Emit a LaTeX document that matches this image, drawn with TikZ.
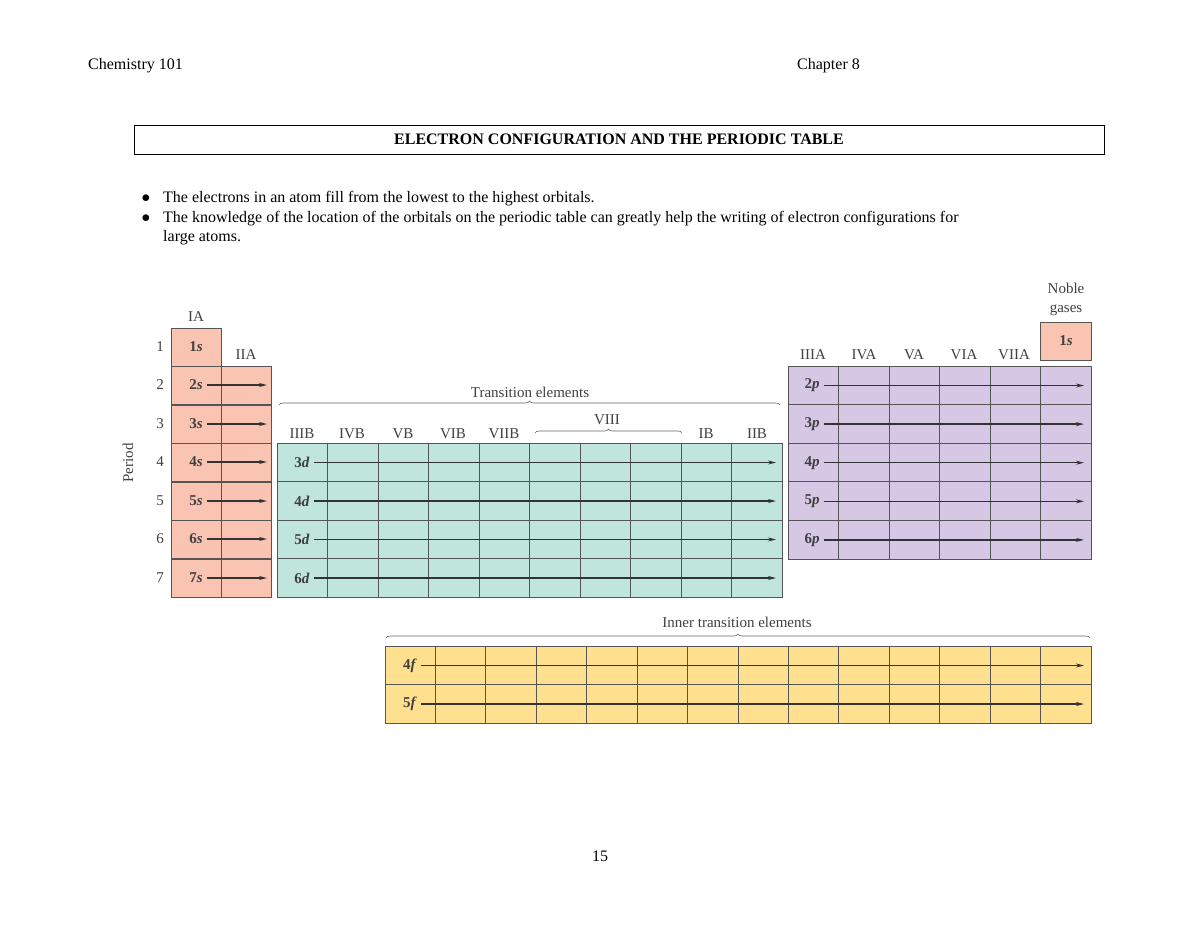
\documentclass[tikz,border=0pt]{standalone}
\usepackage{fontspec}
\setmainfont{Liberation Serif}
\usetikzlibrary{arrows.meta,decorations.pathreplacing}
\definecolor{sblk}{RGB}{249,196,178}
\definecolor{dblk}{RGB}{191,229,220}
\definecolor{pblk}{RGB}{214,200,228}
\definecolor{fblk}{RGB}{255,224,143}
\definecolor{gridc}{RGB}{85,85,85}
\begin{document}
\begin{tikzpicture}[x=1pt,y=-1pt,
  txt/.style={inner sep=0pt,font=\fontsize{16}{19}\selectfont},
  lab/.style={inner sep=0pt,font=\fontsize{15}{17}\selectfont,text=black!75},
  orb/.style={inner sep=0pt,font=\fontsize{15}{17}\selectfont\bfseries,text=black!75},
  cell/.style={draw=gridc,line width=0.8pt},
  arr/.style={-{Stealth[length=8pt,width=4pt]},line width=1.3pt,draw=black!80},
  brc/.style={decorate,decoration={brace,amplitude=4pt},draw=black!60,line width=0.6pt}]
\useasboundingbox[fill=white] (0,0) rectangle (1200,927);
% header
\node[txt,anchor=west] (h1) at (88,66) {Chemistry 101};
\node[txt,anchor=west] (h2) at (797,66) {Chapter 8};
\node[draw,line width=0.8pt,minimum width=970pt,minimum height=29pt,inner sep=0pt,font=\fontsize{16}{19}\selectfont\bfseries] (title) at (619,139.5) {ELECTRON CONFIGURATION AND THE PERIODIC TABLE};
\node[txt] (b1) at (146,199) {$\bullet$};
\node[txt,anchor=west] (t1) at (163,199) {The electrons in an atom fill from the lowest to the highest orbitals.};
\node[txt] (b2) at (146,219) {$\bullet$};
\node[txt,anchor=west] (t2) at (163,219) {The knowledge of the location of the orbitals on the periodic table can greatly help the writing of electron configurations for};
\node[txt,anchor=west] (t3) at (163,238) {large atoms.};
\node[txt] (pg) at (600,856) {15};
% s block
\fill[sblk] (171,328) rectangle (221,597);
\fill[sblk] (221,366) rectangle (271,597);
\draw[cell] (171,328) rectangle (221,366);
\foreach \r [count=\i from 2] in {366,405,443,482,520,559}{
  \pgfmathsetmacro\rb{\r+38.5}
  \draw[cell] (171,\r) rectangle (221,\rb);
  \draw[cell] (221,\r) rectangle (271,\rb);
  \node[orb] (s\i) at (196,\r+19) {\i\textit{s}};
  \coordinate (se\i) at (267,\r+19);
  \draw[arr] (s\i.east)++(4,0) -- (se\i);
  \node[lab] (pn\i) at (160,\r+19) {\i};
}
\node[orb] (s1) at (196,347) {1\textit{s}};
\node[lab] (pn1) at (160,347) {1};
\node[lab] (gIA) at (196,317) {IA};
\node[lab] (gIIA) at (246,355) {IIA};
\node[lab,rotate=90] (period) at (128,463) {Period};
% d block
\fill[dblk] (277,443) rectangle (782,597);
\foreach \c in {0,...,9}{
  \foreach \r in {443,481.5,520,558.5}{
    \draw[cell] (277+50.5*\c,\r) rectangle (327.5+50.5*\c,\r+38.5);
  }
}
\foreach \n/\r in {3/443,4/481.5,5/520,6/558.5}{
  \node[orb] (d\n) at (302,\r+19.5) {\n\textit{d}};
  \coordinate (de\n) at (776,\r+19.5);
  \draw[arr] (d\n.east)++(4,0) -- (de\n);
}
\foreach \g/\x in {IIIB/302,IVB/352,VB/403,VIB/453,VIIB/504,IB/706,IIB/757}{
  \node[lab] (g\g) at (\x,434) {\g};
}
\coordinate (v1) at (535,433); \coordinate (v2) at (682,433);
\draw[brc] (v1) -- (v2);
\node[lab] (gVIII) at (607,420) {VIII};
\coordinate (t1a) at (279,405); \coordinate (t1b) at (780,405);
\draw[brc] (t1a) -- (t1b);
\node[lab] (trans) at (530,392) {Transition elements};
% p block
\fill[pblk] (788,366) rectangle (1091,559);
\foreach \c in {0,...,5}{
  \foreach \r in {366,404.6,443.2,481.8,520.4}{
    \draw[cell] (788+50.5*\c,\r) rectangle (838.5+50.5*\c,\r+38.6);
  }
}
\foreach \n/\r in {2/366,3/404.6,4/443.2,5/481.8,6/520.4}{
  \node[orb] (p\n) at (812,\r+19.5) {\n\textit{p}};
  \coordinate (pe\n) at (1084,\r+19.5);
  \draw[arr] (p\n.east)++(4,0) -- (pe\n);
}
\foreach \g/\x in {IIIA/813,IVA/864,VA/914,VIA/964,VIIA/1014}{
  \node[lab] (g\g) at (\x,355) {\g};
}
\filldraw[fill=sblk,draw=gridc,line width=0.8pt] (1040.5,322) rectangle (1091,360);
\node[orb] (he) at (1066,341) {1\textit{s}};
\node[lab] (ng1) at (1066,288) {Noble};
\node[lab] (ng2) at (1066,310) {gases};
% f block
\fill[fblk] (385,646) rectangle (1091,723);
\foreach \c in {0,...,13}{
  \foreach \r in {646,684.5}{
    \draw[cell] (385+50.43*\c,\r) rectangle (435.43+50.43*\c,\r+38.5);
  }
}
\foreach \n/\r in {4/646,5/684.5}{
  \node[orb] (f\n) at (410,\r+19.5) {\n\textit{f}};
  \coordinate (fe\n) at (1084,\r+19.5);
  \draw[arr] (f\n.east)++(4,0) -- (fe\n);
}
\coordinate (i1a) at (386,638); \coordinate (i1b) at (1090,638);
\draw[brc] (i1a) -- (i1b);
\node[lab] (inner) at (737,622) {Inner transition elements};
\end{tikzpicture}
\end{document}
